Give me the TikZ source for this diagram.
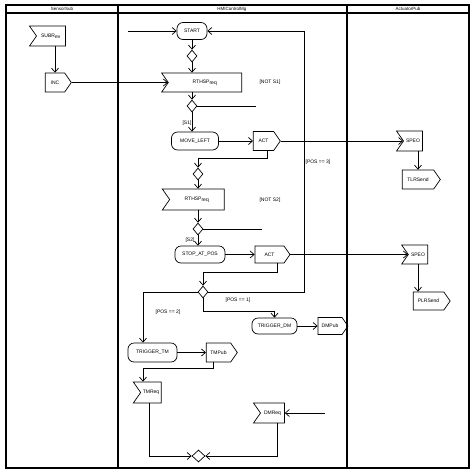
\documentclass[tikz,border=0pt]{standalone}
\usepackage{fontspec}
\setmainfont{Liberation Sans}
\usetikzlibrary{shapes.symbols,shapes.geometric,arrows.meta}
\begin{document}
\begin{tikzpicture}[x=1pt,y=-1pt,
  font=\fontsize{5}{6}\selectfont,
  lane/.style={line width=1.3pt},
  flow/.style={line width=0.7pt,-{Straight Barb[length=4pt,width=7pt]}},
  plain/.style={line width=0.7pt},
  actn/.style={draw,line width=0.7pt,rectangle,rounded corners=6pt,inner sep=1pt},
  sendsig/.style={draw,line width=0.7pt,signal,signal to=east,signal from=nowhere,signal pointer angle=110,inner sep=1pt},
  recvsig/.style={draw,line width=0.7pt,signal,signal to=nowhere,signal from=west,signal pointer angle=110,inner sep=1pt},
  dec/.style={draw,line width=0.7pt,diamond,inner sep=0pt,minimum width=10pt,minimum height=12pt},
  guard/.style={inner sep=0pt},
  hdr/.style={inner sep=0pt,font=\fontsize{4.5}{5}\selectfont}
]
\useasboundingbox (0,0) rectangle (474,475);
% swimlanes
\draw[lane] (6,5) rectangle (469,468);
\draw[lane] (6,13) -- (469,13);
\draw[lane] (118,5) -- (118,468);
\draw[lane] (347,5) -- (347,468);
\node[hdr] (h1) at (62,9) {SensorSub};
\node[hdr] (h2) at (232,9) {HMIControlMg};
\node[hdr] (h3) at (408,9) {ActuatorPub};

% SensorSub
\node[recvsig,minimum width=36pt,minimum height=20pt] (subrev) at (51,36) {SUBR\textsubscript{ev}};
\node[sendsig,minimum width=26pt,minimum height=19pt] (inc) at (55,82.5) {INC};
\draw[flow] (inc.north |- subrev.south) -- (inc.north);

% control lane
\node[actn,minimum width=30pt,minimum height=17pt] (start) at (192,31) {START};
\coordinate (startin) at (128,31);
\draw[flow] (startin) -- (start.west);
\node[dec] (d1) at (192,56) {};
\draw[flow] (start.south) -- (d1.north);
\node[recvsig,minimum width=80pt,minimum height=19pt] (rth1) at (205,82.5) {RTHSP\textsubscript{req}};
\draw[flow] (d1.south) -- (d1.south |- rth1.north);
\draw[flow] (inc.east) -- (rth1.west);
\node[guard] (gnots1) at (270,82) {[NOT S1]};

\node[dec] (d2) at (192,106) {};
\draw[flow] (rth1.south -| d2.north) -- (d2.north);
\coordinate (nots1end) at (256,106);
\draw[plain] (d2.east) -- (nots1end);
\node[guard] (gs1) at (187,123) {[S1]};
\node[actn,minimum width=47pt,minimum height=18pt] (move) at (195,141) {MOVE\_LEFT};
\draw[flow] (d2.south) -- (d2.south |- move.north);
\node[sendsig,minimum width=27pt,minimum height=19pt] (act1) at (263.5,141) {ACT};
\draw[flow] (move.east) -- (act1.west);

% actuator 1
\node[recvsig,minimum width=26pt,minimum height=20pt] (speo1) at (413,141) {SPEO};
\draw[flow] (act1.east) -- (speo1.west);
\node[sendsig,minimum width=38pt,minimum height=19pt] (tlr) at (418,179.5) {TLRSend};
\draw[flow] (speo1.south -| tlr.north) -- (tlr.north);

\node[dec] (d3) at (198,174) {};
\draw[flow] ([xshift=3.5pt]act1.south) -- ++(0,7) -| (d3.north);
\node[recvsig,minimum width=62pt,minimum height=21pt] (rth2) at (197,199.5) {RTHSP\textsubscript{req}};
\draw[flow] (d3.south) -- (d3.south |- rth2.north);
\node[guard] (gnots2) at (270,200) {[NOT S2]};
\node[dec] (d4) at (198,229) {};
\draw[flow] (rth2.south -| d4.north) -- (d4.north);
\coordinate (nots2end) at (262,229);
\draw[plain] (d4.east) -- (nots2end);
\node[guard] (gs2) at (190,240) {[S2]};
\node[actn,minimum width=50pt,minimum height=17pt] (stop) at (200,254.5) {STOP\_AT\_POS};
\draw[flow] (d4.south) -- (d4.south |- stop.north);
\node[sendsig,minimum width=35pt,minimum height=17pt] (act2) at (269.5,254.5) {ACT};
\draw[flow] (stop.east) -- (act2.west);

% actuator 2
\node[recvsig,minimum width=26pt,minimum height=19pt] (speo2) at (418,254.5) {SPEO};
\draw[flow] (act2.east) -- (speo2.west);
\node[sendsig,minimum width=37pt,minimum height=18pt] (plr) at (428.5,301) {PLRSend};
\draw[flow] (speo2.south) -- (speo2.south |- plr.north);

% decision on POS
\node[dec] (d5) at (203,292) {};
\draw[flow] ([xshift=7.5pt]act2.south) -- ++(0,9) -| (d5.north);
\coordinate (loopx) at (304,31);
\draw[flow] (d5.east) -| (loopx) -- (start.east);
\node[guard] (gpos3) at (318,162) {[POS == 3]};
\node[guard] (gpos2) at (168,312) {[POS == 2]};
\node[guard] (gpos1) at (238,300) {[POS == 1]};

\node[actn,minimum width=49pt,minimum height=19pt] (trigtm) at (152.5,352.5) {TRIGGER\_TM};
\draw[flow] (d5.west) -| ([xshift=-9.5pt]trigtm.north);
\node[actn,minimum width=45pt,minimum height=16pt] (trigdm) at (274.5,326) {TRIGGER\_DM};
\draw[flow] (d5.south) -- ++(0,13) -| (trigdm.north);
\node[sendsig,minimum width=30pt,minimum height=17pt] (dmpub) at (330,326) {DMPub};
\draw[flow] (trigdm.east) -- (dmpub.west);
\node[sendsig,minimum width=31pt,minimum height=19pt] (tmpub) at (218.5,352.5) {TMPub};
\draw[flow] (trigtm.east) -- (tmpub.west);

\node[recvsig,minimum width=28pt,minimum height=21pt] (tmreq) at (151,392.5) {TMReq};
\draw[flow] ([xshift=-5.5pt]tmpub.south) -- ++(0,6) -| ([xshift=-8pt]tmreq.north);
\node[recvsig,minimum width=31pt,minimum height=20pt] (dmreq) at (272.5,413) {DMReq};
\coordinate (dmreqin) at (325,413);
\draw[flow] (dmreqin) -- (dmreq.east);

\node[dec,minimum width=13pt] (d6) at (198.5,456) {};
\draw[flow] ([xshift=4.5pt]dmreq.south) |- (d6.east);
\draw[flow] ([xshift=-2pt]tmreq.south) |- (d6.west);
\end{tikzpicture}
\end{document}
